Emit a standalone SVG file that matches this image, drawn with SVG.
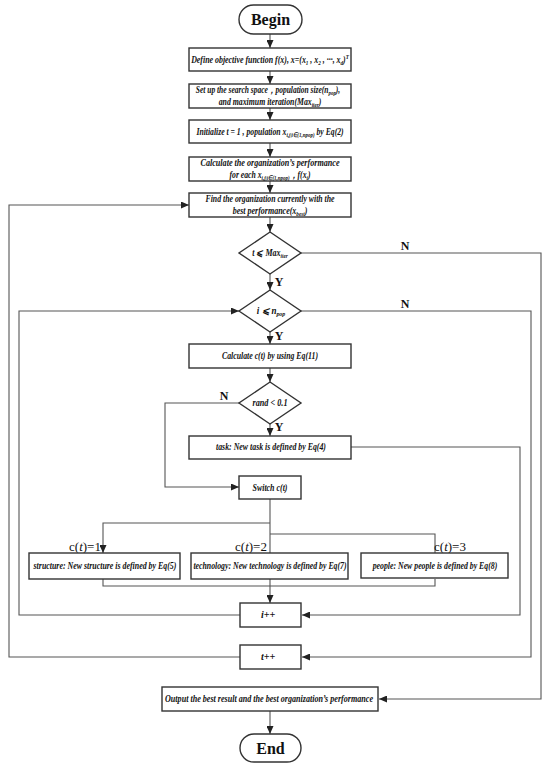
<svg xmlns="http://www.w3.org/2000/svg" width="550" height="765" viewBox="0 0 550 765">
<style>
.box{fill:#fff;stroke:#333;stroke-width:1.4}
.ln{fill:none;stroke:#555;stroke-width:1.1}
.t{font-family:"Liberation Serif","Times New Roman",serif;font-style:italic;font-weight:bold;font-size:10px;fill:#111;text-anchor:middle}
.s{font-size:6.5px}
.big{font-family:"Liberation Serif","Times New Roman",serif;font-weight:bold;font-size:16px;fill:#111;text-anchor:middle}
.yn{font-family:"Liberation Serif","Times New Roman",serif;font-weight:bold;font-size:12px;fill:#111;text-anchor:middle}
.ct{font-family:"Liberation Serif","Times New Roman",serif;font-size:13px;fill:#111;text-anchor:middle}
</style>
<defs>
<marker id="ar" markerWidth="8" markerHeight="7" refX="8" refY="3.5" orient="auto" markerUnits="userSpaceOnUse">
<path d="M0,0 L8,3.5 L0,7 z" fill="#222"/>
</marker>
</defs>
<rect width="550" height="765" fill="#fff"/>
<g id="connectors">
<path class="ln" d="M270,34 V48" marker-end="url(#ar)"/>
<path class="ln" d="M270,71 V84" marker-end="url(#ar)"/>
<path class="ln" d="M270,108 V120" marker-end="url(#ar)"/>
<path class="ln" d="M270,143 V157" marker-end="url(#ar)"/>
<path class="ln" d="M270,181 V193" marker-end="url(#ar)"/>
<path class="ln" d="M270,217 V232" marker-end="url(#ar)"/>
<path class="ln" d="M270,274 V290" marker-end="url(#ar)"/>
<path class="ln" d="M270,332 V344" marker-end="url(#ar)"/>
<path class="ln" d="M270,368 V382" marker-end="url(#ar)"/>
<path class="ln" d="M270,424 V436" marker-end="url(#ar)"/>
<path class="ln" d="M239,403 H165 V487 H239" marker-end="url(#ar)"/>
<path class="ln" d="M351,447 H520 V615 H302" marker-end="url(#ar)"/>
<path class="ln" d="M270,499 V553"/>
<path class="ln" d="M270,523 H103 V553" marker-end="url(#ar)"/>
<path class="ln" d="M270,534 H435 V553"/>
<path class="ln" d="M103,579 V586 H435 V579"/>
<path class="ln" d="M270,579 V603" marker-end="url(#ar)"/>
<path class="ln" d="M240,615 H19 V311 H239" marker-end="url(#ar)"/>
<path class="ln" d="M301,311 H531 V657 H302" marker-end="url(#ar)"/>
<path class="ln" d="M240,657 H9 V205 H189" marker-end="url(#ar)"/>
<path class="ln" d="M301,253 H541 V699 H379" marker-end="url(#ar)"/>
<path class="ln" d="M270,711 V734" marker-end="url(#ar)"/>
<text class="yn" x="405" y="250">N</text>
<text class="yn" x="405" y="308">N</text>
<text class="yn" x="224" y="400">N</text>
<text class="yn" x="279" y="286">Y</text>
<text class="yn" x="279" y="340">Y</text>
<text class="yn" x="279" y="431">Y</text>
<text class="ct" x="85" y="551">c(<tspan font-style="italic">t</tspan>)=1</text>
<text class="ct" x="251" y="551">c(<tspan font-style="italic">t</tspan>)=2</text>
<text class="ct" x="450" y="551">c(<tspan font-style="italic">t</tspan>)=3</text>
</g>
<g id="begin">
<rect class="box" x="239" y="5" width="63" height="29" rx="14.5"/>
<text class="big" x="270.5" y="25">Begin</text>
</g>
<g id="define">
<rect class="box" x="189" y="48" width="162" height="23"/>
<text class="t" transform="translate(270,63) scale(0.79,1)">Define objective function f(x), x=(x<tspan class="s" dy="2">1</tspan><tspan dy="-2"> , x</tspan><tspan class="s" dy="2">2</tspan><tspan dy="-2"> , ···, x</tspan><tspan class="s" dy="2">d</tspan><tspan dy="-2">)</tspan><tspan class="s" dy="-4">T</tspan></text>
</g>
<g id="setup">
<rect class="box" x="189" y="84" width="162" height="24"/>
<text class="t" transform="translate(268,93) scale(0.75,1)">Set up the search space，population size(n<tspan class="s" dy="2">pop</tspan><tspan dy="-2">),</tspan></text>
<text class="t" transform="translate(270,105) scale(0.78,1)">and maximum iteration(Max<tspan class="s" dy="2">iter</tspan><tspan dy="-2">)</tspan></text>
</g>
<g id="init">
<rect class="box" x="189" y="120" width="162" height="23"/>
<text class="t" transform="translate(270,135) scale(0.77,1)">Initialize t = 1 , population x<tspan class="s" dy="2">i,j|i∈(1,npop)</tspan><tspan dy="-2"> by Eq(2)</tspan></text>
</g>
<g id="calcperf">
<rect class="box" x="189" y="157" width="162" height="24"/>
<text class="t" x="270" y="166" textLength="139" lengthAdjust="spacingAndGlyphs">Calculate the organization’s performance</text>
<text class="t" transform="translate(270,178) scale(0.77,1)">for each x<tspan class="s" dy="2">i,j|i∈(1,npop)</tspan><tspan dy="-2">，f(x</tspan><tspan class="s" dy="2">i</tspan><tspan dy="-2">)</tspan></text>
</g>
<g id="find">
<rect class="box" x="189" y="193" width="162" height="24"/>
<text class="t" x="270" y="202" textLength="129" lengthAdjust="spacingAndGlyphs">Find the organization currently with the</text>
<text class="t" transform="translate(270,214) scale(0.8,1)">best performance(x<tspan class="s" dy="2">best</tspan><tspan dy="-2">)</tspan></text>
</g>
<g id="cond-t">
<polygon class="box" points="270,232 301,253 270,274 239,253"/>
<text class="t" transform="translate(270,256) scale(0.8,1)">t ⩽ Max<tspan class="s" dy="2">iter</tspan></text>
</g>
<g id="cond-i">
<polygon class="box" points="270,290 301,311 270,332 239,311"/>
<text class="t" transform="translate(271,314) scale(0.9,1)">i ⩽ n<tspan class="s" dy="2">pop</tspan></text>
</g>
<g id="calc-c">
<rect class="box" x="189" y="344" width="162" height="24"/>
<text class="t" x="270" y="359" textLength="96" lengthAdjust="spacingAndGlyphs">Calculate c(t) by using Eq(11)</text>
</g>
<g id="cond-rand">
<polygon class="box" points="270,382 301,403 270,424 239,403"/>
<text class="t" x="270" y="406" textLength="35" lengthAdjust="spacingAndGlyphs">rand &lt; 0.1</text>
</g>
<g id="task">
<rect class="box" x="189" y="436" width="162" height="23"/>
<text class="t" x="271" y="450" textLength="110" lengthAdjust="spacingAndGlyphs">task: New task is defined by Eq(4)</text>
</g>
<g id="switch">
<rect class="box" x="239" y="476" width="62" height="23"/>
<text class="t" x="270" y="491" textLength="35" lengthAdjust="spacingAndGlyphs">Switch c(t)</text>
</g>
<g id="structure">
<rect class="box" x="29" y="553" width="151" height="26"/>
<text class="t" transform="translate(105,569) scale(0.79,1)">structure: New structure is defined by Eq(5)</text>
</g>
<g id="technology">
<rect class="box" x="191" y="553" width="157" height="26"/>
<text class="t" transform="translate(270,569) scale(0.78,1)">technology: New technology is defined by Eq(7)</text>
</g>
<g id="people">
<rect class="box" x="361" y="553" width="147" height="25"/>
<text class="t" transform="translate(435,569) scale(0.78,1)">people: New people is defined by Eq(8)</text>
</g>
<g id="iinc">
<rect class="box" x="240" y="603" width="61" height="24"/>
<text class="t" x="268" y="618" font-weight="normal">i++</text>
</g>
<g id="tinc">
<rect class="box" x="240" y="645" width="61" height="24"/>
<text class="t" x="268" y="660" font-weight="normal">t++</text>
</g>
<g id="output">
<rect class="box" x="162" y="687" width="216" height="24"/>
<text class="t" x="269" y="702" textLength="208" lengthAdjust="spacingAndGlyphs">Output the best result and the best organization’s performance</text>
</g>
<g id="end">
<rect class="box" x="240" y="734" width="61" height="28" rx="14"/>
<text class="big" x="270.5" y="754">End</text>
</g>
</svg>
